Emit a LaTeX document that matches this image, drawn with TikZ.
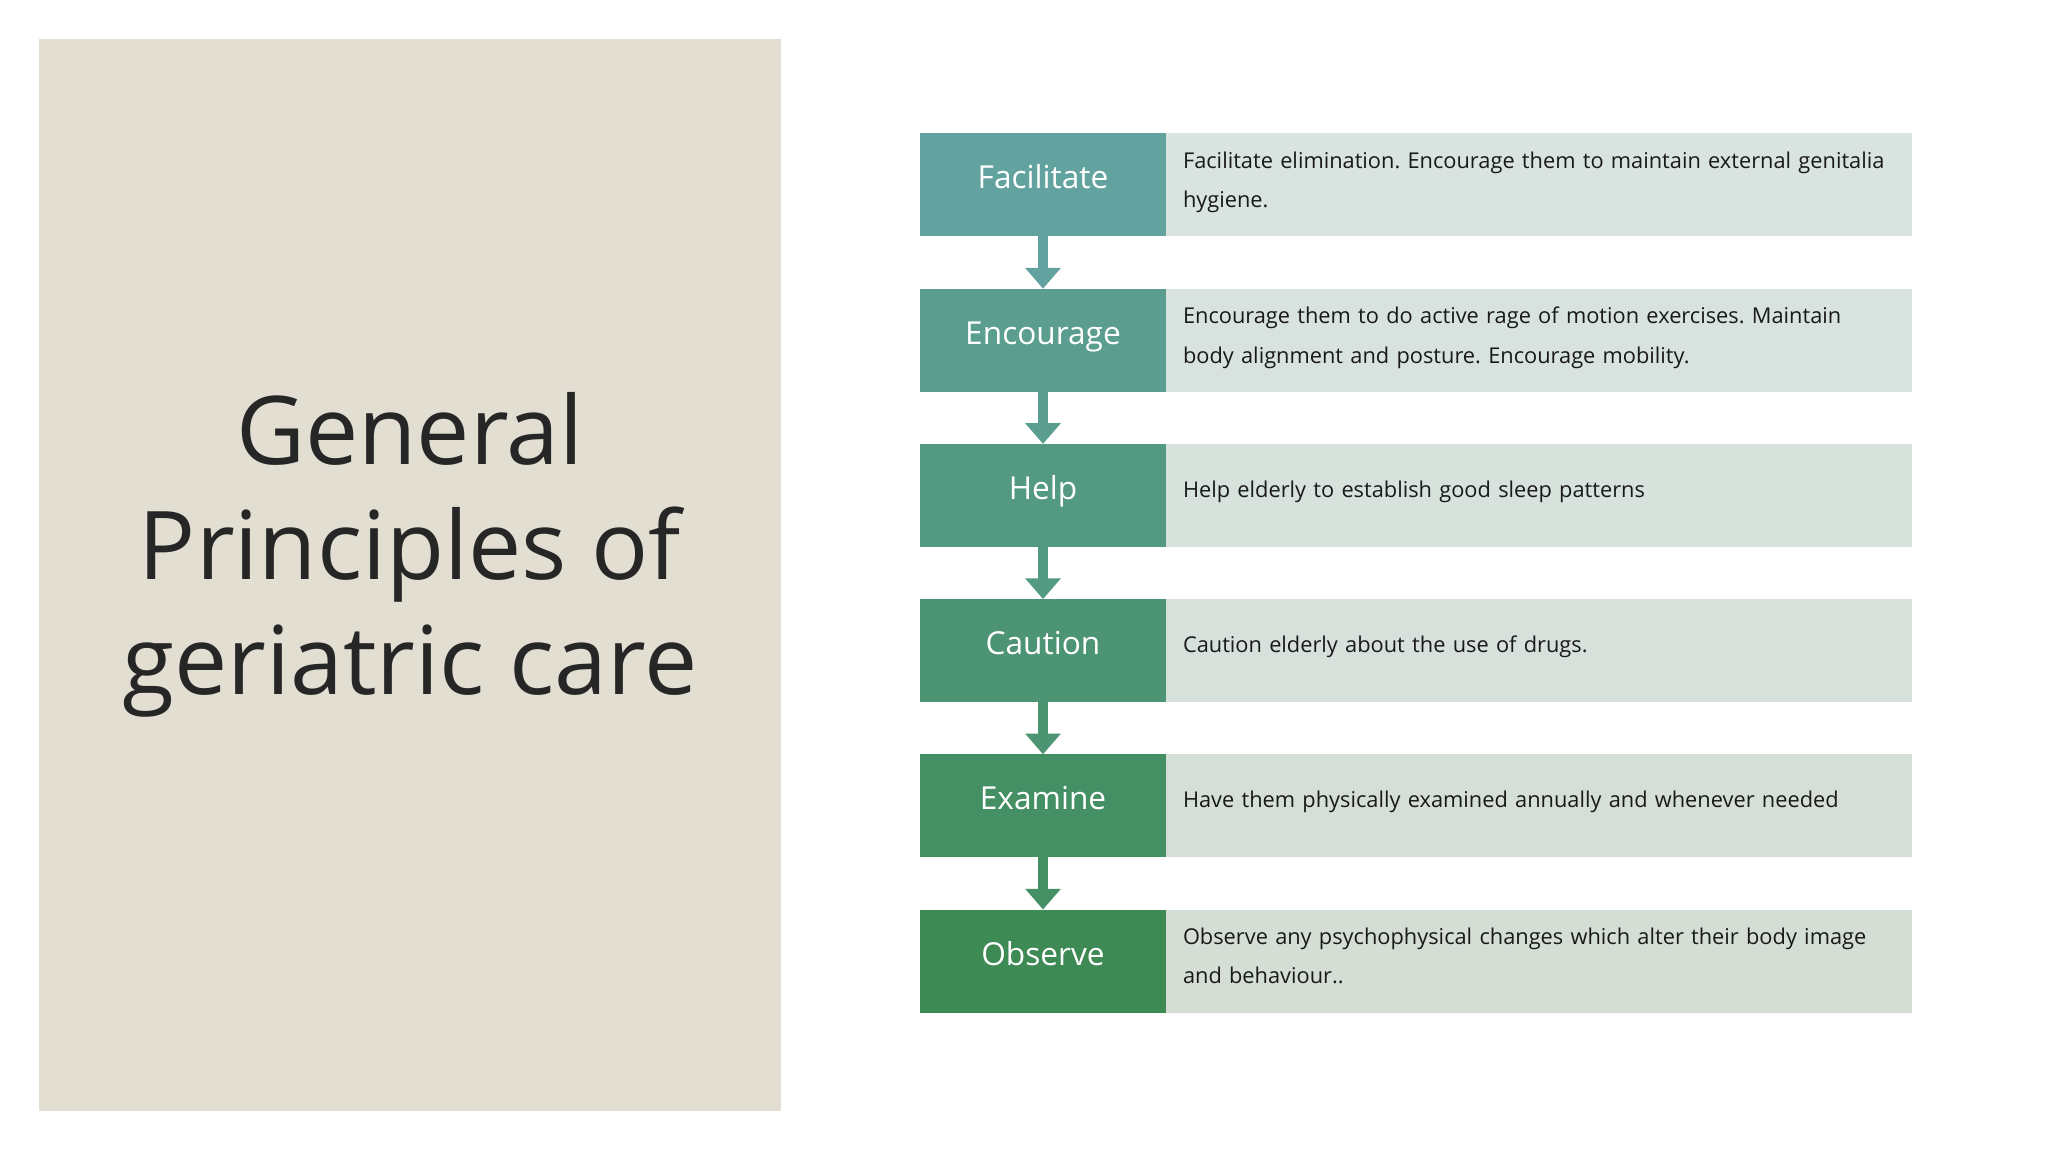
\documentclass[tikz,border=0pt]{standalone}
\usepackage{fontspec}
\setmainfont{Open Sans}
\usepackage{xcolor}
\usetikzlibrary{positioning,arrows.meta}
\frenchspacing

\definecolor{panelbg}{HTML}{E2DED2}
\definecolor{titletext}{HTML}{262626}
\definecolor{stepteal}{HTML}{62A39F}
\definecolor{stepgreen}{HTML}{3E8A55}
\definecolor{noteteal}{HTML}{D9E4E1}
\definecolor{notegreen}{HTML}{D5DED5}

\begin{document}
\begin{tikzpicture}[
    stepbox/.style={rectangle, minimum width=4.92cm, minimum height=2.06cm, inner sep=0pt, outer sep=0pt,
        text=white, font=\fontsize{18}{21}\selectfont, text height=0.38cm, text depth=0.22cm},
    notebox/.style={rectangle, minimum width=14.92cm, minimum height=2.06cm, inner xsep=0.34cm, inner ysep=0pt, outer sep=0pt,
        text width=14.24cm, align=left, text=black!90, font=\fontsize{12.4}{22.4}\selectfont,
        text height=0.38cm, text depth=0.3cm},
    twoline/.style={text height=0.42cm, text depth=30.8pt},
    flow/.style={line width=5.7pt, -{Triangle[length={11.8pt 0 0}, width={19.6pt 0 0}]}}
]
    % slide background and fixed size
    \fill[white] (0,0) rectangle (40.96,-23.04);
    \useasboundingbox (0,0) rectangle (40.96,-23.04);

    % left title panel
    \node[rectangle, fill=panelbg, minimum width=14.84cm, minimum height=21.44cm, inner sep=0pt] (panel) at (8.2,-11.5) {};
    \node[align=center, text=titletext, font=\fontsize{54}{65.4}\selectfont] (title) at ([yshift=0.40cm]panel.center)
        {General\\Principles of\\geriatric care};

    % steps (left column)
    \node[stepbox, fill=stepteal] (facilitate) at (20.86,-3.70) {Facilitate};
    \node[stepbox, fill=stepgreen!20!stepteal, below=1.044cm of facilitate] (encourage) {Encourage};
    \node[stepbox, fill=stepgreen!40!stepteal, below=1.044cm of encourage] (help) {Help};
    \node[stepbox, fill=stepgreen!60!stepteal, below=1.044cm of help] (caution) {Caution};
    \node[stepbox, fill=stepgreen!80!stepteal, below=1.044cm of caution] (examine) {Examine};
    \node[stepbox, fill=stepgreen, below=1.044cm of examine] (observe) {Observe};

    % notes (right column)
    \node[notebox, twoline, fill=noteteal, right=0pt of facilitate] (facnote)
        {Facilitate elimination. Encourage them to maintain external genitalia\\hygiene.};
    \node[notebox, twoline, fill=notegreen!20!noteteal, right=0pt of encourage] (encnote)
        {Encourage them to do active rage of motion exercises. Maintain\\body alignment and posture. Encourage mobility.};
    \node[notebox, fill=notegreen!40!noteteal, right=0pt of help] (helpnote)
        {Help elderly to establish good sleep patterns};
    \node[notebox, fill=notegreen!60!noteteal, right=0pt of caution] (caunote)
        {Caution elderly about the use of drugs.};
    \node[notebox, fill=notegreen!80!noteteal, right=0pt of examine] (examnote)
        {Have them physically examined annually and whenever needed};
    \node[notebox, twoline, fill=notegreen, right=0pt of observe] (obsnote)
        {Observe any psychophysical changes which alter their body image\\and behaviour..};

    % arrows between steps
    \draw[flow, stepteal] (facilitate) -- (encourage);
    \draw[flow, stepgreen!20!stepteal] (encourage) -- (help);
    \draw[flow, stepgreen!40!stepteal] (help) -- (caution);
    \draw[flow, stepgreen!60!stepteal] (caution) -- (examine);
    \draw[flow, stepgreen!80!stepteal] (examine) -- (observe);
\end{tikzpicture}
\end{document}
